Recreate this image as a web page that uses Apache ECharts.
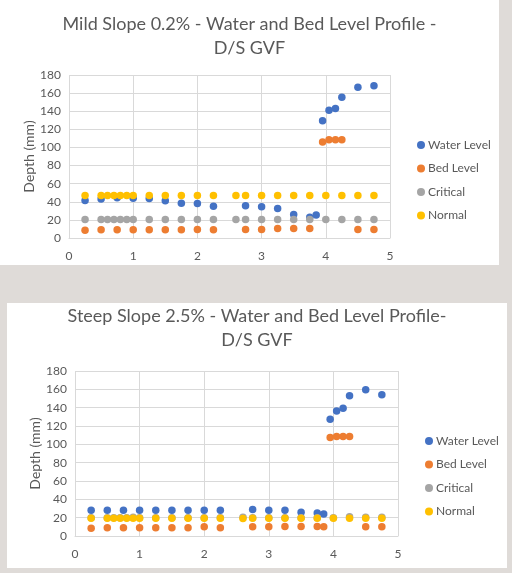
<!DOCTYPE html>
<html>
<head>
<meta charset="utf-8">
<script src="https://cdn.jsdelivr.net/npm/echarts@6/dist/echarts.min.js"></script>
<style>
  html, body { margin: 0; padding: 0; background: #dfdbd8; }
  body { width: 512px; height: 573px; position: relative; overflow: hidden; }
  .panel { position: absolute; background: #ffffff; }
  #mild { left: 0; top: 0; width: 499px; height: 265px; }
  #steep { left: 7px; top: 303px; width: 500px; height: 265px; }
</style>
</head>
<body>
<div id="mild" class="panel"></div>
<div id="steep" class="panel"></div>
<script>
// distances (m) where each series was measured
var xWater = [0.25, 0.5, 0.75, 1, 1.25, 1.5, 1.75, 2, 2.25, 2.75, 3, 3.25, 3.5, 3.75, 3.85, 3.95, 4.05, 4.15, 4.25, 4.5, 4.75];
var xBedMild = [0.25, 0.5, 0.75, 1, 1.25, 1.5, 1.75, 2, 2.25, 2.75, 3, 3.25, 3.5, 3.75, 3.95, 4.05, 4.15, 4.25, 4.5, 4.75];
var xBedSteep = [0.25, 0.5, 0.75, 1, 1.25, 1.5, 1.75, 2, 2.25, 2.75, 3, 3.25, 3.5, 3.75, 3.85, 3.95, 4.05, 4.15, 4.25, 4.5, 4.75];
var xDepth = [0.25, 0.5, 0.6, 0.7, 0.8, 0.9, 1, 1.25, 1.5, 1.75, 2, 2.25, 2.6, 2.75, 3, 3.25, 3.5, 3.75, 4, 4.25, 4.5, 4.75];

// mild slope 0.2%
var waterMild = [41.5, 43, 44.5, 44, 43.5, 41, 38.5, 38, 35, 35.5, 34.5, 32.5, 26, 23, 25.5, 129.5, 141, 143, 155.5, 166.5, 168];
var bedMild = [8.5, 9, 9, 9, 9, 9, 9, 9.5, 9, 9.5, 9.5, 10.5, 10.5, 10.5, 106, 108.5, 108.5, 108.5, 9.5, 9.5];
var criticalMild = [20.5, 20.5, 20.5, 20.5, 20.5, 20.5, 20.5, 20.5, 20.5, 20.5, 20.5, 20.5, 20.5, 20.5, 20.5, 20.5, 20.5, 20.5, 20.5, 20.5, 20.5, 20.5];
var normalMild = [47, 47, 47, 47, 47, 47, 47, 47, 47, 47, 47, 47, 47, 47, 47, 47, 47, 47, 47, 47, 47, 47];

// steep slope 2.5%
var waterSteep = [28, 28, 28, 28, 28, 28, 28, 28, 28, 29, 28, 28, 26, 25, 24, 127.5, 136.5, 139.5, 153, 159.5, 154];
var bedSteep = [8.5, 9, 9, 9, 9, 9, 9, 10, 9, 10, 10, 10.5, 10.5, 10.5, 10, 107.5, 108.5, 108.5, 108.5, 10, 10];
var criticalSteep = [20, 20, 20, 20, 20, 20.5, 20, 20, 20, 20, 20, 20, 20.5, 20, 20, 20, 20, 20, 20, 21, 20.5, 20.5];
var normalSteep = [19.5, 19.5, 19.5, 19.5, 19.5, 19.5, 19.5, 19.5, 19.5, 19.5, 19.5, 19.5, 19, 19.5, 19.5, 19.5, 19.5, 19.5, 19.5, 19.5, 19.5, 19.5];

var seriesNames = ['Water Level', 'Bed Level', 'Critical', 'Normal'];
var colors = ['#4472c4', '#ed7d31', '#a5a5a5', '#ffc000'];
var font = 'Lato, "Liberation Sans", sans-serif';
var textColor = '#595959';
var gridColor = '#d9d9d9';

function pairs(xs, ys) {
    return xs.map(function (x, i) { return [x, ys[i]]; });
}

function buildOption(title, titleTop, grid, legendLeft, legendTop, data) {
    return {
        animation: false,
        color: colors,
        textStyle: { fontFamily: font },
        title: {
            text: title,
            left: 'center',
            top: titleTop,
            textStyle: { fontFamily: font, fontSize: 18, fontWeight: 'normal', color: textColor, lineHeight: 24 }
        },
        legend: {
            orient: 'vertical',
            left: legendLeft,
            top: legendTop,
            itemWidth: 8,
            itemHeight: 8,
            itemGap: 11.5,
            icon: 'circle',
            data: seriesNames,
            textStyle: { fontFamily: font, fontSize: 12, color: textColor, padding: [0, 0, 0, -2] }
        },
        grid: grid,
        xAxis: {
            type: 'value',
            min: 0, max: 5, interval: 1,
            axisLine: { lineStyle: { color: gridColor } },
            axisTick: { show: false },
            splitLine: { lineStyle: { color: gridColor } },
            axisLabel: { color: textColor, fontSize: 12, margin: 12 }
        },
        yAxis: {
            type: 'value',
            min: 0, max: 180, interval: 20,
            name: 'Depth (mm)',
            nameLocation: 'middle',
            nameGap: 33,
            nameMoveOverlap: false,
            nameTextStyle: { color: textColor, fontSize: 14, fontFamily: font },
            axisLine: { show: false },
            axisTick: { show: false },
            splitLine: { lineStyle: { color: gridColor } },
            axisLabel: { color: textColor, fontSize: 12, margin: 8 }
        },
        series: data.map(function (d, i) {
            return {
                name: seriesNames[i],
                type: 'scatter',
                symbolSize: 7.5,
                itemStyle: { color: colors[i], opacity: 1 },
                data: d
            };
        })
    };
}

var mild = echarts.init(document.getElementById('mild'));
mild.setOption(buildOption(
    'Mild Slope 0.2% - Water and Bed Level Profile -\nD/S GVF', 7,
    { left: 69, right: 109, top: 75, bottom: 27 }, 412, 134,
    [pairs(xWater, waterMild), pairs(xBedMild, bedMild), pairs(xDepth, criticalMild), pairs(xDepth, normalMild)]
));

var steep = echarts.init(document.getElementById('steep'));
steep.setOption(buildOption(
    'Steep Slope 2.5% - Water and Bed Level Profile-\nD/S GVF', -4,
    { left: 68, right: 109, top: 68, bottom: 32 }, 413, 127,
    [pairs(xWater, waterSteep), pairs(xBedSteep, bedSteep), pairs(xDepth, criticalSteep), pairs(xDepth, normalSteep)]
));
</script>
</body>
</html>
